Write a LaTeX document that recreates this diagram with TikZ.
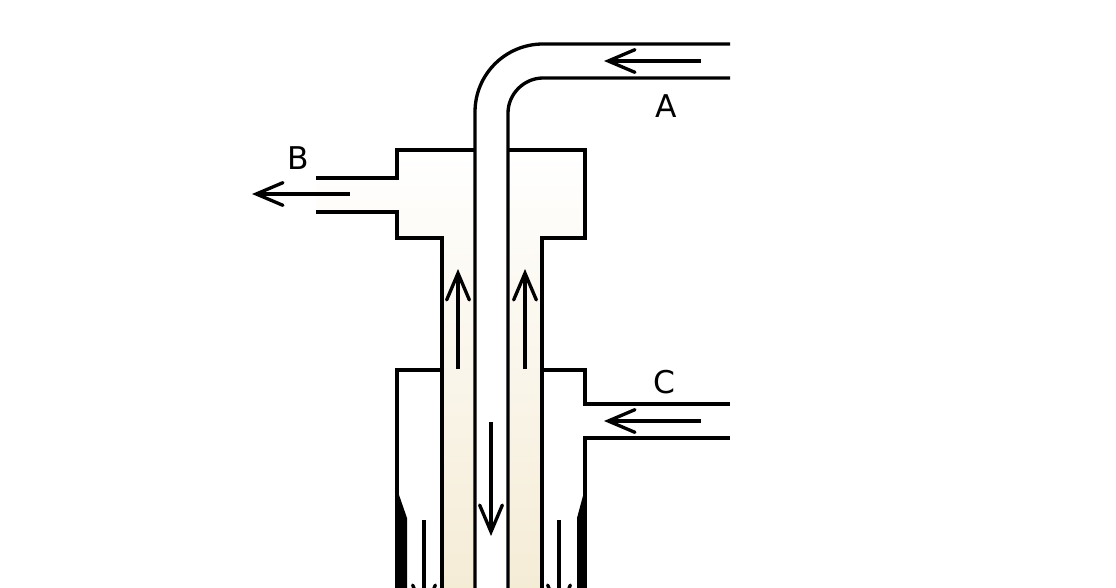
\documentclass[tikz,border=0pt]{standalone}
\usepackage{fontspec}
\setmainfont{DejaVu Sans}
\usetikzlibrary{arrows.meta}
\usepackage{xcolor}
\definecolor{oilcream}{HTML}{F5ECD6}
\tikzset{
  wall/.style={black, line width=2.5pt, line join=miter},
  flow/.style={black, line width=2.5pt, -{Straight Barb[length=20pt,width=17pt,line cap=round]}},
  tag/.style={font=\fontsize{23.5}{26}\selectfont, inner sep=0pt},
}
\begin{document}
\begin{tikzpicture}[x=.75pt,y=-.75pt]
\useasboundingbox (0,0) rectangle (1116,588);
\clip (0,0) rectangle (1116,588);
% annulus fill
\shade[top color=white, bottom color=oilcream] (316,178)--(397,178)--(397,150)--(585,150)--(585,238)--(542,238)--(542,588)--(442,588)--(442,238)--(397,238)--(397,212)--(316,212)--cycle;
% centre tube
\fill[white] (475,600)--(475,112) .. controls (475,74.4) and (505.4,44) .. (543,44)--(730,44)--(730,78)--(543,78) .. controls (524,78) and (508,94) .. (508,113)--(508,600)--cycle;
\draw[wall] (475,600)--(475,112) .. controls (475,74.4) and (505.4,44) .. (543,44)--(730,44);
\draw[wall] (508,600)--(508,113) .. controls (508,94) and (524,78) .. (543,78)--(730,78);
% head
\draw[wall] (316,178)--(397,178)--(397,150)--(475,150);
\draw[wall] (508,150)--(585,150)--(585,238)--(542,238)--(542,600);
\draw[wall] (316,212)--(397,212)--(397,238)--(442,238)--(442,600);
% jacket
\draw[wall] (442,370)--(397,370)--(397,600);
\draw[wall] (542,370)--(585,370)--(585,404)--(730,404);
\draw[wall] (730,438)--(585,438)--(585,600);
\fill[black] (398,492)--(407,518)--(407,600)--(398,600)--cycle;
\fill[black] (584,492)--(577,518)--(577,600)--(584,600)--cycle;
% flow arrows
\foreach \y in {61,421} {
 \draw[flow] (701,\y)--(604,\y);
}
\draw[flow] (350,194)--(252,194);
\foreach \x in {458,525} {
 \draw[flow] (\x,369)--(\x,269);
}
\draw[flow] (491,422)--(491,536);
\foreach \x in {424,559} {
 \draw[flow] (\x,520)--(\x,616);
}
\node[tag] (labelA) at (666.5,106) {A};
\node[tag] (labelB) at (298.5,158.5) {B};
\node[tag] (labelC) at (664.5,382.5) {C};
\end{tikzpicture}
\end{document}
